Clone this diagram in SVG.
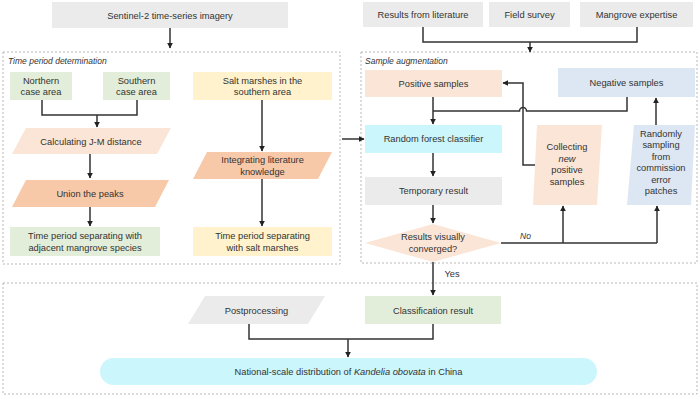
<svg xmlns="http://www.w3.org/2000/svg" width="700" height="397" viewBox="0 0 700 397">
<defs>
<marker id="ah" viewBox="0 0 10 10" refX="9" refY="5" markerWidth="6" markerHeight="6" markerUnits="userSpaceOnUse" orient="auto">
<path d="M0,0 L10,5 L0,10 z" fill="#222"/>
</marker>
<style>
text{font-family:"Liberation Sans",Arial,sans-serif;font-size:9.3px;fill:#333;text-anchor:middle}
.lbl{text-anchor:start;font-style:italic;font-size:8.5px}
.frame{fill:none;stroke:#b8b8b8;stroke-width:1;stroke-dasharray:2,2}
.gray{fill:#ebebeb}
.green{fill:#e2eed9}
.lor{fill:#fbe5d6}
.dor{fill:#f7c9a8}
.yel{fill:#fff2cc}
.blue{fill:#dde7f3}
.cyan{fill:#cbf6fb}
.c{fill:none;stroke:#333;stroke-width:1.5}
.a{fill:none;stroke:#333;stroke-width:1.5;marker-end:url(#ah)}
</style>
</defs>
<rect width="700" height="397" fill="#fff"/>

<g id="frames">
<rect class="frame" x="3" y="52" width="337" height="212"/>
<rect class="frame" x="361" y="52" width="336" height="211"/>
<rect class="frame" x="3" y="283" width="694" height="111"/>
<text class="lbl" x="8" y="64">Time period determination</text>
<text class="lbl" x="365" y="64">Sample augmentation</text>
</g>

<g id="sentinel"><rect class="gray" x="52" y="2" width="236" height="26"/><text x="170" y="18.5">Sentinel-2 time-series imagery</text></g>
<g id="literature"><rect class="gray" x="363" y="2" width="120" height="25"/><text x="423" y="18">Results from literature</text></g>
<g id="field"><rect class="gray" x="489" y="2" width="81" height="25"/><text x="529.5" y="18">Field survey</text></g>
<g id="expertise"><rect class="gray" x="580" y="2" width="113" height="25"/><text x="636.5" y="18">Mangrove expertise</text></g>

<g id="northern"><rect class="green" x="10" y="72" width="62" height="28"/><text x="41" y="83.5">Northern</text><text x="41" y="95">case area</text></g>
<g id="southern"><rect class="green" x="103" y="72" width="67" height="28"/><text x="136.5" y="83.5">Southern</text><text x="136.5" y="95">case area</text></g>
<g id="saltmarsh"><rect class="yel" x="193" y="72" width="139" height="28"/><text x="262.5" y="83.5">Salt marshes in the</text><text x="262.5" y="95">southern area</text></g>
<g id="jm"><polygon class="lor" points="26,128 171,128 157,154 12,154"/><text x="91" y="144.5">Calculating J-M distance</text></g>
<g id="union"><polygon class="dor" points="26,180 169,180 155,207 12,207"/><text x="90" y="197">Union the peaks</text></g>
<g id="tp_mangrove"><rect class="green" x="10" y="227" width="150" height="29"/><text x="85" y="239">Time period separating with</text><text x="85" y="250.5">adjacent mangrove species</text></g>
<g id="integrating"><polygon class="dor" points="207,152 332,152 318,179 193,179"/><text x="262.5" y="163">Integrating literature</text><text x="262.5" y="174.5">knowledge</text></g>
<g id="tp_salt"><rect class="yel" x="193" y="227" width="139" height="29"/><text x="262.5" y="239">Time period separating</text><text x="262.5" y="250.5">with salt marshes</text></g>

<g id="positive"><rect class="lor" x="365" y="70" width="137" height="27"/><text x="433.5" y="86.5">Positive samples</text></g>
<g id="negative"><rect class="blue" x="558" y="68" width="137" height="29"/><text x="626.5" y="85.5">Negative samples</text></g>
<g id="rf"><rect class="cyan" x="365" y="125" width="137" height="28"/><text x="433.5" y="142">Random forest classifier</text></g>
<g id="temp"><rect class="gray" x="365" y="177" width="137" height="28"/><text x="433.5" y="194">Temporary result</text></g>
<g id="converged"><polygon class="lor" points="365,243 433,224 501,243 433,262"/><text x="433" y="240">Results visually</text><text x="433" y="251.5">converged?</text></g>
<g id="collecting"><polygon class="lor" points="537,125 602,125 597,205 533,205"/><text x="567" y="150">Collecting</text><text x="567" y="161.5"><tspan font-style="italic">new</tspan></text><text x="567" y="173">positive</text><text x="567" y="184.5">samples</text></g>
<g id="randomly"><polygon class="blue" points="634,125 695,125 691,205 627,205"/><text x="661" y="136.5">Randomly</text><text x="661" y="148">sampling</text><text x="661" y="159.5">from</text><text x="661" y="171">commission</text><text x="661" y="182.5">error</text><text x="661" y="194">patches</text></g>

<g id="postprocessing"><polygon class="gray" points="205,296 325,296 308,324 188,324"/><text x="256.5" y="313.5">Postprocessing</text></g>
<g id="classification"><rect class="green" x="365" y="296" width="136" height="28"/><text x="433" y="313.5">Classification result</text></g>
<g id="national"><rect class="cyan" x="100" y="358" width="497" height="27" rx="13.5"/><text x="348.5" y="375">National-scale distribution of <tspan font-style="italic">Kandelia obovata</tspan> in China</text></g>

<g id="connectors">
<path class="a" d="M170,28 V48"/>
<path class="c" d="M423,27 V42 H637 V27"/>
<path class="a" d="M530,42 V52"/>
<path class="c" d="M42,100 V115 H137 V100"/>
<path class="a" d="M97,115 V127"/>
<path class="a" d="M90,154 V178"/>
<path class="a" d="M90,207 V226"/>
<path class="a" d="M262,100 V151"/>
<path class="a" d="M262,179 V226"/>
<path class="a" d="M342,139 H364"/>
<path class="a" d="M433,97 V124"/>
<path class="c" d="M627,97 V111 H526.5 A3.5,3.5 0 0 0 519.5,111 H433"/>
<path class="a" d="M535,165 H523 V83 H503"/>
<path class="a" d="M656,125 V98"/>
<path class="a" d="M433,153 V176"/>
<path class="a" d="M433,205 V223"/>
<path class="c" d="M501,243 H657"/>
<path class="a" d="M563,243 V206"/>
<path class="a" d="M657,243 V206"/>
<path class="a" d="M433,262 V295"/>
<path class="c" d="M249,324 V339 H433 V324"/>
<path class="a" d="M348,339 V357"/>
<text class="lbl" x="520" y="239">No</text>
<text x="452" y="277" style="text-anchor:middle">Yes</text>
</g>
</svg>
